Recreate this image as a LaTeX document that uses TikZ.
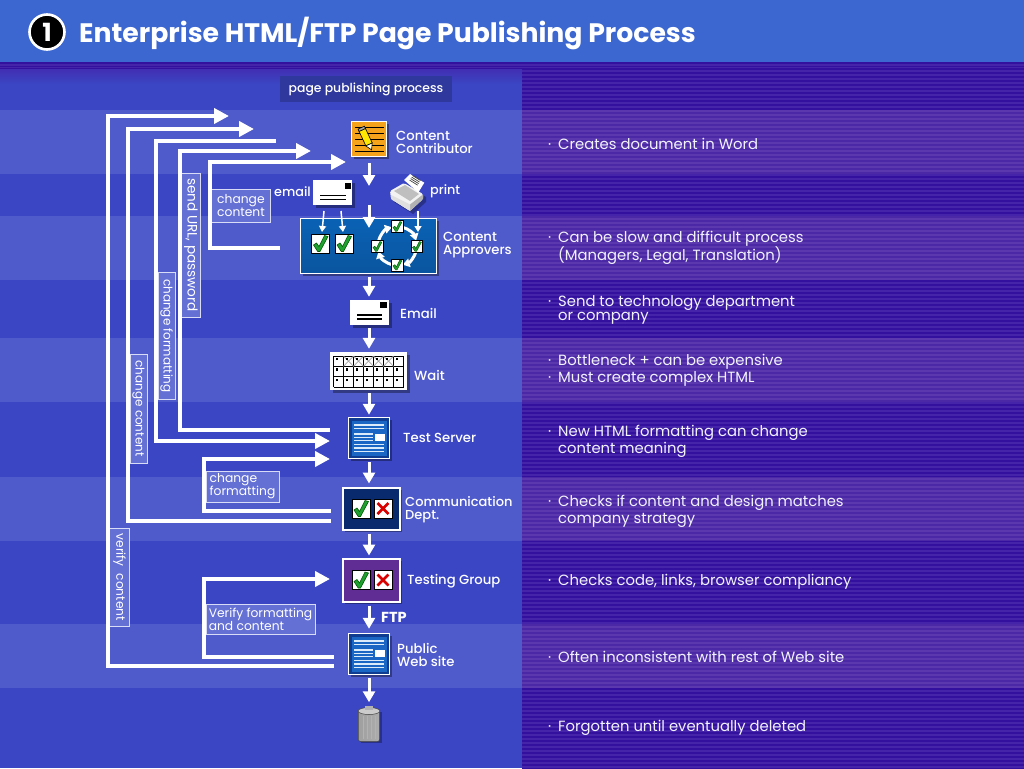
\documentclass[tikz,border=0pt]{standalone}
\usepackage{fontspec}
\setmainfont{Poppins}
\newfontfamily\medf{Poppins Medium}
\usetikzlibrary{arrows.meta,shadows}
\definecolor{hdr}{HTML}{3C66D0}
\definecolor{bandD}{HTML}{3A46C4}
\definecolor{bandL}{HTML}{4F5ACB}
\definecolor{rD}{HTML}{4524AA}
\definecolor{rL}{HTML}{5C38AE}
\definecolor{rS}{HTML}{34109E}
\definecolor{rSL}{HTML}{4B28A6}
\definecolor{labf}{HTML}{6470D4}
\definecolor{labl}{HTML}{D8DCF6}
\definecolor{txt}{HTML}{F2F3FC}
\definecolor{pageB}{HTML}{1A66C4}
\definecolor{pageD}{HTML}{0F3C90}
\definecolor{pageL}{HTML}{DCEBFA}
\definecolor{orangefig}{HTML}{F5A31A}
\definecolor{commfig}{HTML}{0A2A6E}
\definecolor{testfig}{HTML}{5F2D93}
\definecolor{chkg}{HTML}{1FA030}
\definecolor{appr}{HTML}{0A62B5}
\definecolor{apprb}{HTML}{0A559F}
\newcommand\bodyf{\fontsize{14.8}{17}\selectfont}
\newcommand\itemf{\fontsize{13.2}{13}\selectfont\medf}
\newcommand\labf{\fontsize{12.3}{13}\selectfont}
\newcommand\ind{\hspace*{10pt}}
\newcommand\bul{\makebox[10pt][l]{·}}
\tikzset{
  fb/.style={draw=white,line width=4pt,line join=miter},
  fbarrow/.style={fb,-{Triangle[length=15pt,width=15pt]}},
  flow/.style={draw=white,line width=3pt,-{Triangle[length=11pt,width=12pt]}},
  thinflow/.style={draw=white,line width=1.5pt,-{Triangle[length=6pt,width=7pt]}},
  lab/.style={fill=labf,draw=labl,line width=.7pt,inner sep=0pt,text=white,font=\labf,align=left},
  itemlabel/.style={anchor=west,inner sep=0pt,text=white,font=\itemf,align=left},
  desc/.style={anchor=west,inner sep=0pt,text=txt,font=\bodyf,align=left},
  icon/.style={draw=white,inner sep=0pt,drop shadow={shadow xshift=2.5pt,shadow yshift=-2.5pt,opacity=.35,fill=black}},
  chkbox/.pic={
    \begin{scope}[scale=#1]
      \fill[white,draw=black,line width=#1*1pt] (-9,-9.5) rectangle (9,9.5);
      \fill[chkg,draw=green!35!black,line width=#1*.6pt] (-7,1.5) -- (-4,-.5) -- (-1.5,3) -- (4,-8) -- (7.5,-7) -- (-.5,8) -- (-2.8,8) -- cycle;
    \end{scope}},
  xbox/.pic={
    \fill[white,draw=black,line width=1pt] (-9,-9.5) rectangle (9,9.5);
    \draw[red!85!black,line width=2.8pt] (-5.5,-5.5) -- (5.5,5.5) (5.5,-5.5) -- (-5.5,5.5);},
  pagefig/.pic={
    \fill[pageB] (-17.5,-17.5) rectangle (17.5,17.5);
    \draw[pageL,line width=1.5pt] (-15,-13) -- (15,-13) (-15,-9.5) -- (15,-9.5);
    \draw[pageL,line width=1.3pt] (-15,-4) -- (4,-4) (-15,-.7) -- (4,-.7) (-15,2.6) -- (4,2.6);
    \draw[pageL,line width=1.5pt] (-15,6.5) -- (15,6.5) (-15,10) -- (15,10) (-15,13.5) -- (15,13.5);
    \fill[white] (6,-4.5) rectangle (16,3);}
}
\begin{document}
\begin{tikzpicture}[x=1pt,y=-1pt]
\useasboundingbox (0,0) rectangle (1024,768);
% backgrounds
\fill[hdr] (0,0) rectangle (1024,62);
\fill[rD] (0,62) rectangle (1024,69);
\foreach \yy/\yb/\cl/\cr in {69/110/bandD/rD,110/174/bandL/rL,174/216/bandD/rD,216/280/bandL/rL,280/338/bandD/rD,338/402/bandL/rL,402/477/bandD/rD,477/541/bandL/rL,541/624/bandD/rD,624/688/bandL/rL,688/768/bandD/rD}{
  \fill[\cl] (0,\yy) rectangle (522,\yb);
  \fill[\cr] (522,\yy) rectangle (1024,\yb);
}
\shade[top color=rD!70!bandD,bottom color=bandD] (0,69) rectangle (522,84);
\foreach \yy/\yb/\cs in {69/110/rS,110/174/rSL,174/216/rS,216/280/rSL,280/338/rS,338/402/rSL,402/477/rS,477/541/rSL,541/624/rS,624/688/rSL,688/768/rS}{
  \begin{scope}
    \clip (522,\yy) rectangle (1024,\yb);
    \foreach \s in {68,72,...,768}{\fill[\cs] (522,\s) rectangle (1024,\s+1.6);}
  \end{scope}
}
\fill[rS] (0,62) rectangle (1024,63.5);
\fill[rS] (0,65.5) rectangle (1024,66.8);
\fill[rS] (0,68) rectangle (1024,69);
% header
\node[circle,fill=black,draw=white,line width=2.6pt,minimum size=35pt,inner sep=0pt,text=white,font=\fontsize{25}{25}\selectfont\bfseries] (badge) at (47,32) {1};
\node[anchor=west,inner sep=0pt,text=white,font=\fontsize{26.7}{28}\selectfont\bfseries] (title) at (79,33) {Enterprise HTML/FTP Page Publishing Process};
\node[fill=bandD!80!black,inner sep=0pt,minimum width=172pt,minimum height=26pt,text=white,font=\fontsize{12.4}{13}\selectfont\medf] (caption) at (366,89) {page publishing process};
% label boxes
\node[lab,minimum width=59pt,minimum height=33pt] (lbA) at (241,205.5) {change\\content};
\node[lab,minimum width=73pt,minimum height=31pt] (lbB) at (242.5,486.5) {change\\formatting};
\node[lab,minimum width=109pt,minimum height=30pt] (lbC) at (260.5,619) {Verify formatting\\and content};
\node[lab,rotate=-90,minimum width=144pt,minimum height=18.5pt,font=\fontsize{13.6}{14}\selectfont] (lbD) at (191,245) {send URL, password};
\node[lab,rotate=-90,minimum width=127pt,minimum height=17pt,font=\fontsize{12}{13}\selectfont] (lbE) at (166.5,336) {change formatting};
\node[lab,rotate=-90,minimum width=109pt,minimum height=17pt,font=\fontsize{12}{13}\selectfont] (lbF) at (138.5,408.5) {change content};
\node[lab,rotate=-90,minimum width=98pt,minimum height=19.5pt,font=\fontsize{12.2}{13}\selectfont] (lbG) at (119.5,577.5) {verify\hspace{7pt}content};
% icons
\node[icon,line width=1.5pt,fill=orangefig,minimum width=35pt,minimum height=35pt] (contrib) at (369,139) {};
\foreach \s in {127,133,139,145,151}{\draw[black,line width=.9pt] (355,\s) -- (384,\s);}
\begin{scope}[shift={(366.5,139)},rotate=25]
  \fill[yellow!90!orange,draw=black,line width=.6pt] (-3.5,-10) rectangle (3.5,6);
  \fill[white!90!yellow,draw=black,line width=.6pt] (-3.5,6) -- (3.5,6) -- (0,12) -- cycle;
  \fill[gray!70,draw=black,line width=.6pt] (-3.5,-12.5) rectangle (3.5,-10);
\end{scope}
\node[icon,fill=white,draw=none,minimum width=39pt,minimum height=25pt] (mailA) at (332.5,192.5) {};
\fill[black] (345,183) rectangle (351,189);
\draw[black,line width=1.2pt] (320,195.5) -- (346,195.5) (320,199.5) -- (346,199.5);
\node[itemlabel,font=\fontsize{12.8}{13}\selectfont\medf] (emailtxt) at (274,192) {email};
% printer
\fill[black,opacity=.3] (393,194) -- (407,186) -- (426,197) -- (426,202) -- (413,214) -- (394,202) -- cycle;
\fill[gray!10,rounded corners=1.5pt] (390,191) -- (404,183) -- (423,194) -- (423,199) -- (410,211) -- (391,199) -- cycle;
\fill[gray!60] (410,204.5) -- (423,194.5) -- (423,199) -- (410,211) -- cycle;
\fill[gray!25] (391,195) -- (410,204.5) -- (410,211) -- (391,199) -- cycle;
\fill[gray!50] (394,191) -- (405,185) -- (419,194) -- (410,201) -- cycle;
\fill[white] (404,180) -- (410,174) -- (424.3,182.7) -- (418.3,192.5) -- cycle;
\foreach \t in {0,1,2,3}{\draw[black!75,line width=.7pt] ({412.5-\t*.95},{175.5+\t*1.55}) -- ++(8,5);}
\node[itemlabel,font=\fontsize{12.8}{13}\selectfont\medf] (printtxt) at (430,191) {print};
% approvers
\node[icon,line width=1pt,top color=appr,bottom color=apprb,minimum width=136pt,minimum height=55pt] (approve) at (368.7,245.5) {};
\pic at (320.5,243.5) {chkbox=1};
\pic at (344,243.5) {chkbox=1};
\coordinate (cyc) at (397.3,246);
\foreach \a in {-76,14,104,194}{
  \draw[white,line width=3pt,-{Triangle[length=7pt,width=8.5pt]}] (cyc) ++(\a:19.5) arc[start angle=\a,end angle=\a+60,radius=19.5];
}
\pic at (397.3,226.5) {chkbox=.62};
\pic at (416.8,246.5) {chkbox=.62};
\pic at (397.3,265) {chkbox=.62};
\pic at (377.3,246.5) {chkbox=.62};
% email
\node[icon,fill=white,draw=none,minimum width=39pt,minimum height=25pt] (mailB) at (369.5,312.5) {};
\fill[black] (380,302) rectangle (387,308);
\draw[black,line width=1.2pt] (357,315) -- (382,315) (357,319) -- (382,319);
% wait
\node[icon,fill=white,draw=none,minimum width=77pt,minimum height=38pt] (wait) at (368.5,371) {};
\foreach \c in {0,...,7}{\draw[black,line width=.8pt] ({333.5+\c*10},356) -- ({333.5+\c*10},387);}
\foreach \r in {0,...,3}{\draw[black,line width=.8pt] (333.5,{356+\r*10.3}) -- (403.5,{356+\r*10.3});}
\foreach \c in {1,...,5}{\draw[gray!70,line width=.7pt] ({333.5+\c*10},356) -- ({343.5+\c*10},366.3) ({343.5+\c*10},356) -- ({333.5+\c*10},366.3);}
\foreach \c in {0,...,6}{\foreach \r in {0,1,2}{\fill[black] ({335.5+\c*10},{358+\r*10.3}) rectangle ++(2.2,2.2);}}
% test server
\node[icon,line width=1.5pt,fill=pageD,minimum width=41pt,minimum height=41pt] (test) at (369,438) {};
\pic at (369,438) {pagefig};
% communication
\node[icon,line width=2pt,fill=commfig,minimum width=57pt,minimum height=42pt] (comm) at (371,508.5) {};
\pic at (361,508.5) {chkbox=1};
\pic at (383,508.5) {xbox};
% testing
\node[icon,line width=2pt,fill=testfig,minimum width=57pt,minimum height=43pt] (testing) at (371,580) {};
\pic at (361,580) {chkbox=1};
\pic at (383,580) {xbox};
% public web
\node[icon,line width=1.5pt,fill=pageD,minimum width=41pt,minimum height=41pt] (web) at (369,654) {};
\pic at (369,654) {pagefig};
% trash
\fill[black,opacity=.3] (361,712) rectangle (382,743);
\node[inner sep=0pt,minimum width=21pt,minimum height=31pt,left color=gray!75,middle color=gray!35,right color=gray!65,draw=gray!50!black,line width=.5pt,rounded corners=2pt] (trash) at (369,726) {};
\foreach \s in {363,367,371,375}{\draw[gray!60,line width=.9pt] (\s,716) -- (\s,739);}
\fill[gray!40,draw=gray!50!black,line width=.5pt] (369,711) ellipse[x radius=11,y radius=3.5];
\fill[gray!60] (365,705.5) rectangle (373,710);
% item labels
\node[itemlabel] (t1) at (396,142) {Content\\Contributor};
\node[itemlabel] (t2) at (443,245) {Content\\Approvers};
\node[itemlabel] (t3) at (400,313) {Email};
\node[itemlabel] (t4) at (414,375) {Wait};
\node[itemlabel] (t5) at (403,438) {Test Server};
\node[itemlabel,font=\fontsize{13}{13}\selectfont\medf] (t6) at (405,510) {Communication\\Dept.};
\node[itemlabel] (t7) at (407,581) {Testing Group};
\node[itemlabel,font=\fontsize{14.5}{14}\selectfont\bfseries] (t8) at (381,617) {FTP};
\node[itemlabel] (t9) at (397,654.5) {Public\\Web site};
% vertical arrows
\coordinate (spine) at (369,0);
\coordinate (gapA) at (369,186);
\coordinate (gapB) at (369,205);
\coordinate (hitA) at (369,228);
\draw[flow] (contrib.south -| spine) ++(0,6) -- (gapA);
\draw[flow] (gapB) -- (hitA);
\draw[flow,shorten <=3pt,shorten >=3pt] (approve.south -| spine) -- (mailB.north -| spine);
\draw[flow,shorten <=3pt,shorten >=3pt] (mailB.south -| spine) -- (wait.north -| spine);
\draw[flow,shorten <=3pt,shorten >=2pt] (wait.south -| spine) -- (test.north -| spine);
\draw[flow,shorten <=3pt,shorten >=3pt] (test.south -| spine) -- (comm.north -| spine);
\draw[flow,shorten <=3pt,shorten >=2pt] (comm.south -| spine) -- (testing.north -| spine);
\draw[flow,shorten <=3pt,shorten >=4pt] (testing.south -| spine) -- (web.north -| spine);
\draw[flow,shorten <=3pt,shorten >=8pt] (web.south -| spine) -- (trash.north -| spine);
% printed & email branches
\coordinate (mA) at (324,211);\coordinate (cA) at (322,232);
\coordinate (mB) at (341,211);\coordinate (cB) at (343,232);
\coordinate (pA) at (418,211);\coordinate (cC) at (418,232);
\draw[thinflow] (mA) -- (cA);
\draw[thinflow] (mB) -- (cB);
\draw[thinflow] (pA) -- (cC);
% feedback lines
\coordinate (a1) at (334,666);\coordinate (a2) at (108,666);\coordinate (a3) at (108,116);\coordinate (a4) at (229,116);
\draw[fbarrow] (a1) -- (a2) -- (a3) -- (a4);
\coordinate (b1) at (331,521);\coordinate (b2) at (128,521);\coordinate (b3) at (128,129);\coordinate (b4) at (254,129);
\draw[fbarrow] (b1) -- (b2) -- (b3) -- (b4);
\coordinate (c1) at (276,141);\coordinate (c2) at (156,141);\coordinate (c3) at (156,441);\coordinate (c4) at (330,441);
\draw[fbarrow] (c1) -- (c2) -- (c3) -- (c4);
\coordinate (d1) at (330,430);\coordinate (d2) at (180,430);\coordinate (d3) at (180,151);\coordinate (d4) at (311,151);
\draw[fbarrow] (d1) -- (d2) -- (d3) -- (d4);
\coordinate (e1) at (280,248);\coordinate (e2) at (210,248);\coordinate (e3) at (210,162);\coordinate (e4) at (346,162);
\draw[fbarrow] (e1) -- (e2) -- (e3) -- (e4);
\coordinate (f1) at (331,511);\coordinate (f2) at (204,511);\coordinate (f3) at (204,459);\coordinate (f4) at (330,459);
\draw[fbarrow] (f1) -- (f2) -- (f3) -- (f4);
\coordinate (g1) at (334,657);\coordinate (g2) at (204,657);\coordinate (g3) at (204,579);\coordinate (g4) at (330,579);
\draw[fbarrow] (g1) -- (g2) -- (g3) -- (g4);
% description column
\node[desc] (r1) at (548,144) {\bul Creates document in Word};
\node[desc] (r2) at (548,248) {\bul Can be slow and difficult process\\\ind(Managers, Legal, Translation)};
\node[desc,font=\fontsize{14.8}{14}\selectfont] (r3) at (548,310) {\bul Send to technology department\\\ind or company};
\node[desc] (r4) at (548,370) {\bul Bottleneck + can be expensive\\\bul Must create complex HTML};
\node[desc] (r5) at (548,441) {\bul New HTML formatting can change\\\ind content meaning};
\node[desc] (r6) at (548,511) {\bul Checks if content and design matches\\\ind company strategy};
\node[desc] (r7) at (548,581.5) {\bul Checks code, links, browser compliancy};
\node[desc] (r8) at (548,656.5) {\bul Often inconsistent with rest of Web site};
\node[desc] (r9) at (548,727.5) {\bul Forgotten until eventually deleted};
\end{tikzpicture}
\end{document}
